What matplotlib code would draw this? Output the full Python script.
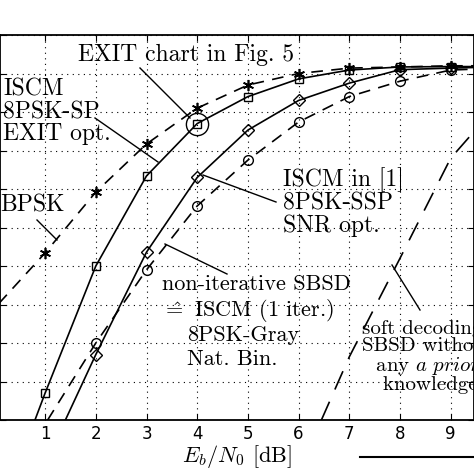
import matplotlib
matplotlib.use("Agg")
import matplotlib.pyplot as plt
from matplotlib.lines import Line2D

plt.rcParams['font.family'] = ['cmr10', 'DejaVu Serif']
plt.rcParams['mathtext.fontset'] = 'cm'
plt.rcParams['axes.formatter.use_mathtext'] = True

x_pts = [1, 2, 3, 4, 5, 6, 7, 8, 9]
bpsk_x = [0.0] + x_pts + [9.6]
bpsk_y = [0.29, 0.434, 0.592, 0.717, 0.81, 0.87, 0.90, 0.914, 0.917, 0.92, 0.92]
sp_x = [0.8] + x_pts + [9.6]
sp_y = [0.0, 0.07, 0.40, 0.634, 0.77, 0.84, 0.886, 0.909, 0.917, 0.918, 0.918]
ssp_x = [1.4, 2, 3, 4, 5, 6, 7, 8, 9, 9.6]
ssp_y = [0.0, 0.17, 0.436, 0.63, 0.753, 0.83, 0.875, 0.91, 0.914, 0.916]
gray_x = [1.05, 2, 3, 4, 5, 6, 7, 8, 9, 9.6]
gray_y = [0.0, 0.20, 0.39, 0.556, 0.675, 0.774, 0.84, 0.88, 0.909, 0.912]
soft_x = [6.45, 7, 8, 9, 9.6]
soft_y = [0.0, 0.164, 0.42, 0.68, 0.77]
xticks = [1, 2, 3, 4, 5, 6, 7, 8, 9]

W = 474
fig = plt.figure(figsize=(4.74, 4.74), dpi=100)
ax = fig.add_axes([0, 1 - 420 / W, 1, 385 / W])
ax.set_xlim(0.11, 9.46)
ax.set_ylim(0, 1)

dash = (0, (7, 5))
lw = 1.2
ax.plot(bpsk_x, bpsk_y, color='k', lw=lw, ls=dash)
ax.plot(x_pts, bpsk_y[1:-1], 'k', ls='none', marker=(6, 2, 0), ms=8, mew=1.2)
ax.plot(sp_x, sp_y, color='k', lw=lw)
ax.plot(x_pts, sp_y[1:-1], 'ks', ms=6, mfc='none')
ax.plot(ssp_x, ssp_y, color='k', lw=lw)
ax.plot(ssp_x[1:-1], ssp_y[1:-1], 'kD', ms=6, mfc='none')
ax.plot(gray_x, gray_y, color='k', lw=lw, ls=dash)
ax.plot(gray_x[1:-1], gray_y[1:-1], 'ko', ms=7, mfc='none')
ax.plot(soft_x, soft_y, color='k', lw=lw, ls=(0, (12, 8)))
ax.plot([4], [sp_y[4]], 'ko', ms=16, mfc='none')

ax.set_xticks(xticks)
ax.set_xticklabels([str(t) for t in xticks], family='DejaVu Sans', fontsize=12)
ax.set_yticks([i / 10 for i in range(11)])
ax.set_yticklabels([])
ax.tick_params(direction='in', top=True, right=True, length=4)
ax.grid(True, color='k', ls=(0, (1, 4)), lw=0.8)
for s in ax.spines.values():
    s.set_linewidth(1.3)
ax.set_xlabel(r'$E_b/N_0$ [dB]', fontsize=16, labelpad=0)

def P(px, py):
    return px / W, 1 - py / W

def seg(p1, p2, lw=1):
    a, b = P(*p1), P(*p2)
    fig.add_artist(Line2D([a[0], b[0]], [a[1], b[1]], color='k', lw=lw, transform=fig.transFigure))

fs = 17
fig.text(*P(78, 55), 'EXIT chart in Fig. 5', fontsize=fs, va='center')
seg((140, 68), (190, 118))
fig.text(*P(3, 112), 'ISCM\n8PSK-SP\nEXIT opt.', fontsize=fs, va='center', linespacing=1.0)
seg((95, 118), (158, 162))
fig.text(*P(0, 205), 'BPSK', fontsize=fs, va='center')
seg((37, 220), (57, 240))
fig.text(*P(283, 202), 'ISCM in [1]\n8PSK-SSP\nSNR opt.', fontsize=fs, va='center', linespacing=1.0)
seg((276, 202), (203, 175))
fig.text(*P(162, 284), 'non-iterative SBSD', fontsize=16, va='center')
fig.text(*P(162, 310), r'$\hat{=}$ ISCM (1 iter.)', fontsize=16, va='center')
fig.text(*P(187, 335), '8PSK-Gray', fontsize=16, va='center')
fig.text(*P(187, 359), 'Nat. Bin.', fontsize=16, va='center')
seg((227, 274), (165, 244))
fig.text(*P(362, 357), 'soft decoding\nSBSD without\n  any $\\it{a\\ priori}$\n   knowledge', fontsize=15,
         va='center', linespacing=0.95)
seg((420, 310), (392, 265))
seg((360, 457), (474, 457), lw=1.5)

fig.savefig('out.png', dpi=100)
